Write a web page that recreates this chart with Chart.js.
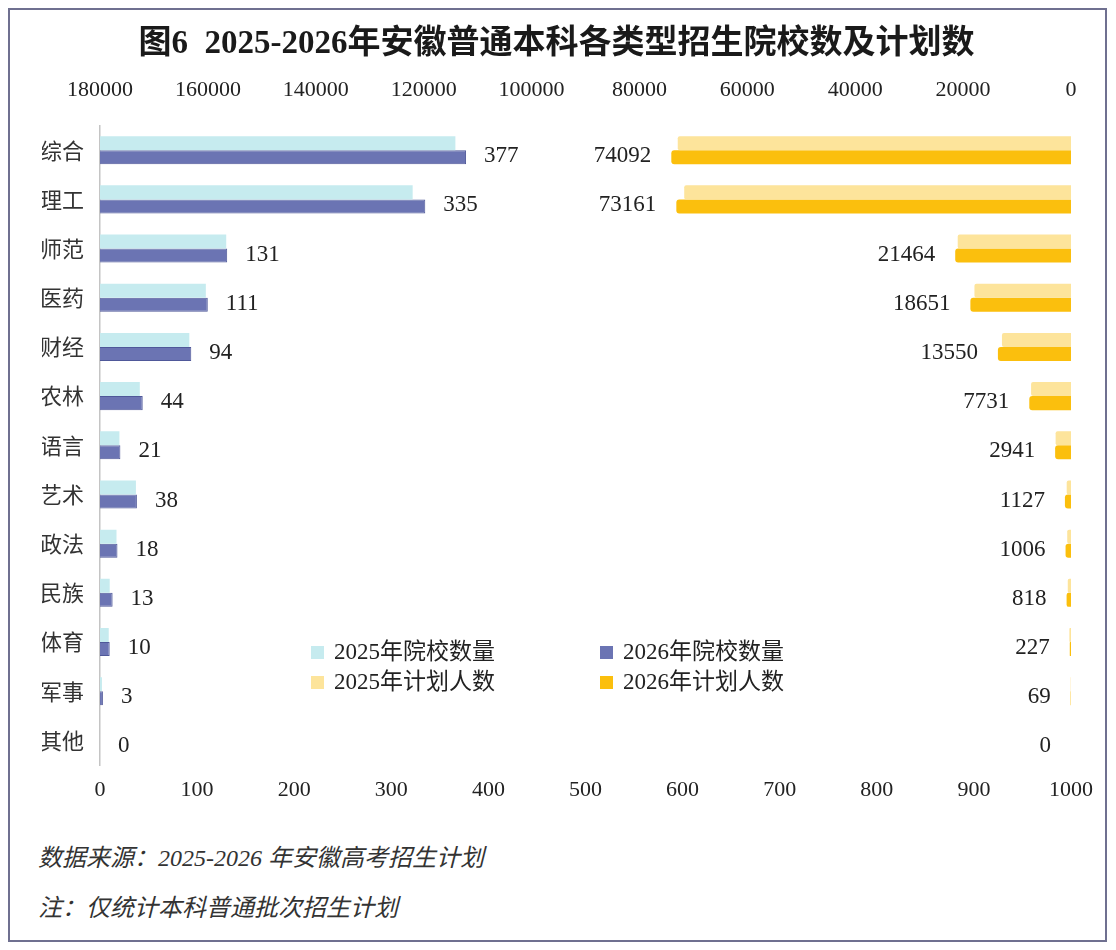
<!DOCTYPE html>
<html>
<head>
<meta charset="utf-8">
<script src="https://cdn.jsdelivr.net/npm/chart.js@4"></script>
<style>
  body { margin: 0; background: #fff; }
  #wrap { position: relative; width: 1116px; height: 950px; }
  #marco { position: absolute; left: 8px; top: 8px; width: 1095px; height: 930px; border: 2px solid #6f7090; }
  #lienzo { position: absolute; left: 0; top: 0; }
  .leyenda { position: absolute; font: 23px "Liberation Serif", "Noto Sans CJK SC"; color: #222; line-height: 26px; }
  .leyenda span { display: inline-block; width: 13px; height: 13px; margin-right: 10px; vertical-align: 0px; }
  .nota { position: absolute; left: 38px; font: italic 24px "Liberation Serif", "Noto Sans CJK SC"; color: #333; line-height: 28px; }
</style>
</head>
<body>
<div id="wrap">
  <div id="marco"></div>
  <canvas id="lienzo" width="1116" height="820"></canvas>
  <div class="leyenda" style="left:311px; top:639px;"><span style="background:#c6ebef"></span>2025年院校数量</div>
  <div class="leyenda" style="left:600px; top:639px;"><span style="background:#6b74b3"></span>2026年院校数量</div>
  <div class="leyenda" style="left:311px; top:669px;"><span style="background:#fde49b"></span>2025年计划人数</div>
  <div class="leyenda" style="left:600px; top:669px;"><span style="background:#fbbf0d"></span>2026年计划人数</div>
  <div class="nota" style="top:844px;">数据来源：2025-2026 年安徽高考招生计划</div>
  <div class="nota" style="top:894px;">注：仅统计本科普通批次招生计划</div>
</div>
<script>
// categorias y valores
const tipos = ["综合", "理工", "师范", "医药", "财经", "农林", "语言", "艺术", "政法", "民族", "体育", "军事", "其他"];
const escuelas2025 = [366, 322, 130, 109, 92, 41, 20, 37, 17, 10, 9, 2, 0];
const escuelas2026 = [377, 335, 131, 111, 94, 44, 21, 38, 18, 13, 10, 3, 0];
const plan2025 = [72900, 71700, 21000, 17900, 12800, 7400, 2850, 800, 700, 600, 300, 60, 0];
const plan2026 = [74092, 73161, 21464, 18651, 13550, 7731, 2941, 1127, 1006, 818, 227, 69, 0];
const ticksEscuelas = [0, 100, 200, 300, 400, 500, 600, 700, 800, 900, 1000];
const ticksPlan = [0, 20000, 40000, 60000, 80000, 100000, 120000, 140000, 160000, 180000];

const fuenteNum = '"Liberation Serif", "Noto Sans CJK SC"';

// etiquetas de valor para 2026
const etiquetas = {
  id: 'etiquetas',
  afterDatasetsDraw(chart) {
    const c = chart.ctx;
    c.save();
    c.font = '23px ' + fuenteNum;
    c.fillStyle = '#222';
    c.textBaseline = 'middle';
    chart.getDatasetMeta(1).data.forEach((bar, i) => {
      c.textAlign = 'left';
      c.fillText(escuelas2026[i], bar.x + 18, bar.y - 1);
    });
    chart.getDatasetMeta(3).data.forEach((bar, i) => {
      c.textAlign = 'right';
      c.fillText(plan2026[i], bar.x - 20, bar.y - 1);
    });
    c.restore();
  }
};

const ctx = document.getElementById("lienzo");
const myChart = new Chart(ctx, {
  type: 'bar',
  data: {
    labels: tipos,
    datasets: [
      { label: '2025年院校数量', data: escuelas2025, xAxisID: 'x', stack: 'a', backgroundColor: '#c6ebef' },
      { label: '2026年院校数量', data: escuelas2026, xAxisID: 'x', stack: 'b', backgroundColor: '#6b74b3', borderColor: '#4f5899', borderWidth: 1 },
      { label: '2025年计划人数', data: plan2025, xAxisID: 'x2', stack: 'a', backgroundColor: '#fde49b', borderRadius: 2 },
      { label: '2026年计划人数', data: plan2026, xAxisID: 'x2', stack: 'b', backgroundColor: '#fbbf0d', borderRadius: 3 }
    ]
  },
  options: {
    indexAxis: 'y',
    responsive: false,
    animation: false,
    categoryPercentage: 0.57,
    barPercentage: 1.0,
    layout: { padding: { top: 10, left: 42, right: 45, bottom: 18 } },
    plugins: {
      legend: { display: false },
      tooltip: { enabled: false },
      title: {
        display: true,
        text: '图6  2025-2026年安徽普通本科各类型招生院校数及计划数',
        color: '#1a1a1a',
        font: { family: fuenteNum, size: 33, weight: 'bold' },
        padding: { top: 15, bottom: 15 }
      }
    },
    scales: {
      y: {
        afterFit: s => { s.width = 58; },
        grid: { display: false, drawTicks: false },
        border: { display: true, color: '#c4c4c4', width: 1.5 },
        ticks: { color: '#333', padding: 16, font: { family: '"Noto Sans CJK SC"', size: 22 } }
      },
      x: {
        position: 'bottom',
        min: 0, max: 1000,
        afterBuildTicks: s => { s.ticks = ticksEscuelas.map(v => ({ value: v })); },
        afterFit: s => { s.height = 37; },
        grid: { display: false, drawTicks: false },
        border: { display: false },
        ticks: { color: '#222', padding: 12, maxRotation: 0, font: { family: fuenteNum, size: 22 }, callback: v => String(v) }
      },
      x2: {
        position: 'top',
        reverse: true,
        min: 0, max: 180000,
        afterBuildTicks: s => { s.ticks = ticksPlan.map(v => ({ value: v })); },
        afterFit: s => { s.height = 46; },
        grid: { display: false, drawTicks: false },
        border: { display: false },
        ticks: { color: '#222', padding: 22, maxRotation: 0, font: { family: fuenteNum, size: 22 }, callback: v => String(v) }
      }
    }
  },
  plugins: [etiquetas]
});
</script>
</body>
</html>
